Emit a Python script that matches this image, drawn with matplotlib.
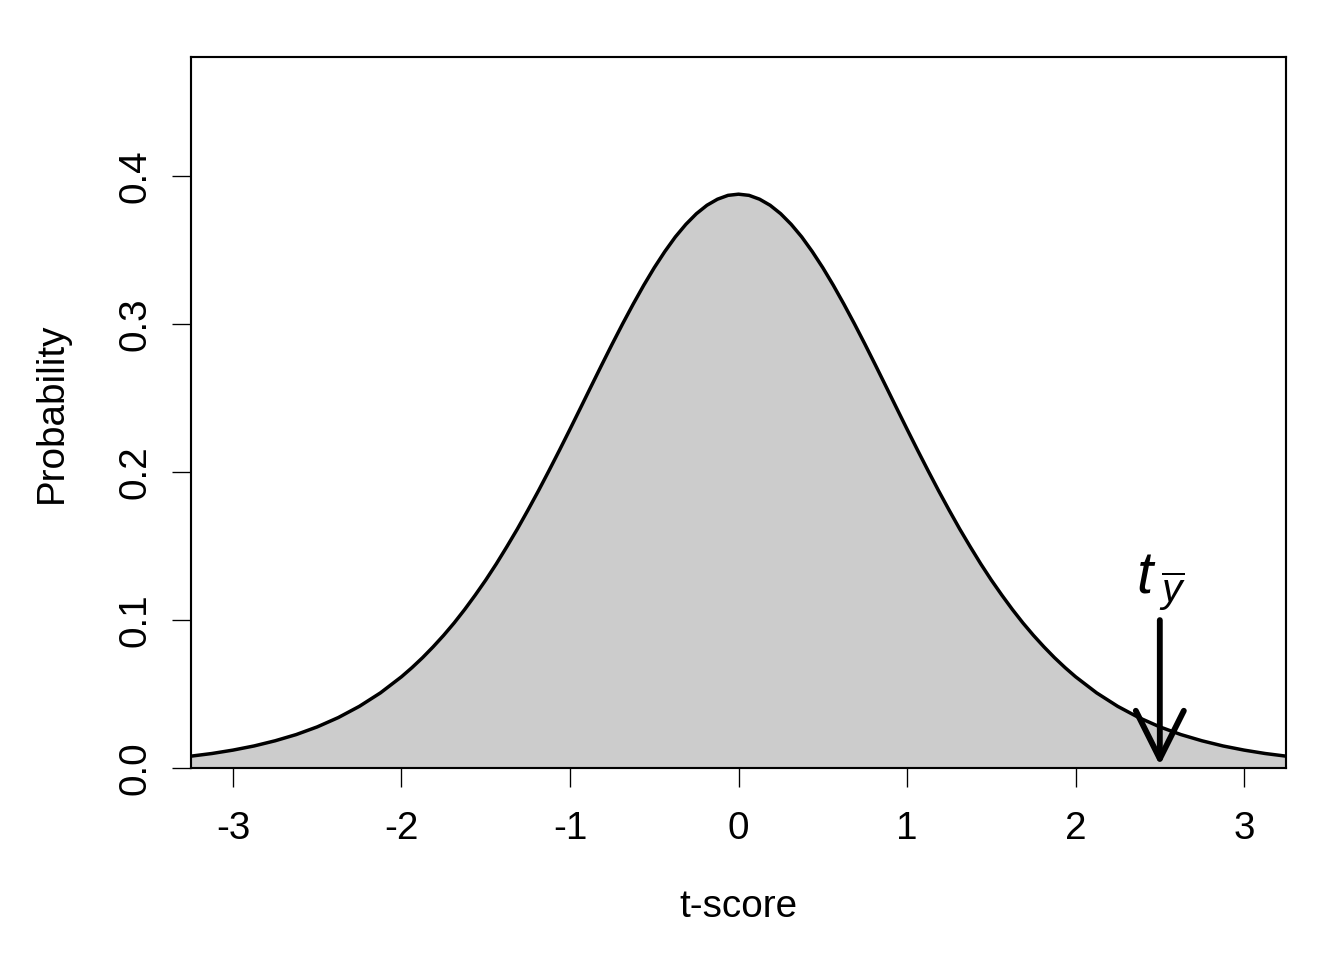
import matplotlib
matplotlib.use("Agg")
import matplotlib.pyplot as plt

plt.rcParams['font.family'] = ['Liberation Sans', 'DejaVu Sans']
plt.rcParams['mathtext.fontset'] = 'custom'
plt.rcParams['mathtext.it'] = 'Liberation Sans:italic'
plt.rcParams['mathtext.rm'] = 'Liberation Sans'

# t-density (right half, mirrored for the left half)
t_pos = [0.0, 0.0625, 0.125, 0.1875, 0.25, 0.3125, 0.375, 0.4375, 0.5,
         0.5625, 0.625, 0.6875, 0.75, 0.8125, 0.875, 0.9375, 1.0, 1.0625,
         1.125, 1.1875, 1.25, 1.3125, 1.375, 1.4375, 1.5, 1.5625, 1.625,
         1.6875, 1.75, 1.8125, 1.875, 1.9375, 2.0, 2.125, 2.25, 2.375, 2.5,
         2.625, 2.75, 2.875, 3.0, 3.125, 3.25]
dens_pos = [0.3880, 0.3872, 0.3846, 0.3805, 0.3748, 0.3676, 0.3591, 0.3492,
            0.3383, 0.3264, 0.3137, 0.3004, 0.2866, 0.2724, 0.2580, 0.2435,
            0.2291, 0.2149, 0.2010, 0.1874, 0.1743, 0.1616, 0.1496, 0.1380,
            0.1271, 0.1169, 0.1072, 0.0981, 0.0897, 0.0819, 0.0746, 0.0679,
            0.0617, 0.0508, 0.0417, 0.0341, 0.0278, 0.0226, 0.0184, 0.0149,
            0.0121, 0.0098, 0.0080]

t_vals = [-v for v in t_pos[:0:-1]] + t_pos
dens = dens_pos[:0:-1] + dens_pos

t_obs = 2.5
arrow_top = 0.1
label = r'$t_{\;\overline{y}}$'

x_ticks = [-3, -2, -1, 0, 1, 2, 3]
y_ticks = [0.0, 0.1, 0.2, 0.3, 0.4]

fig = plt.figure(figsize=(7, 5), dpi=192)
ax = fig.add_axes([0.142, 0.2, 0.815, 0.741])

ax.fill_between(t_vals, dens, 0, color='#cccccc', lw=0)
ax.plot(t_vals, dens, color='black', lw=1.3)

ax.annotate('', xy=(t_obs, 0), xytext=(t_obs, arrow_top),
            arrowprops=dict(arrowstyle='->,head_length=18,head_width=9',
                            lw=2.2, color='black', mutation_scale=1,
                            shrinkA=0, shrinkB=-1))
ax.text(t_obs + 0.01, 0.118, label, fontsize=22, ha='center', va='baseline')

ax.set_xlim(-3.25, 3.25)
ax.set_ylim(0, 0.481)
ax.set_xticks(x_ticks)
ax.set_xticklabels([str(v) for v in x_ticks])
ax.set_yticks(y_ticks)
ax.set_yticklabels([f'{v:.1f}' for v in y_ticks], rotation=90, va='center')
ax.tick_params(direction='out', length=7, width=0.5, labelsize=14.5)
ax.tick_params(axis='x', pad=9)
ax.tick_params(axis='y', pad=7)
for s in ax.spines.values():
    s.set_linewidth(0.8)

ax.set_xlabel('t-score', fontsize=14.5, labelpad=16)
ax.set_ylabel('Probability', fontsize=14.5, labelpad=18)

fig.savefig('out.png', dpi=192)
